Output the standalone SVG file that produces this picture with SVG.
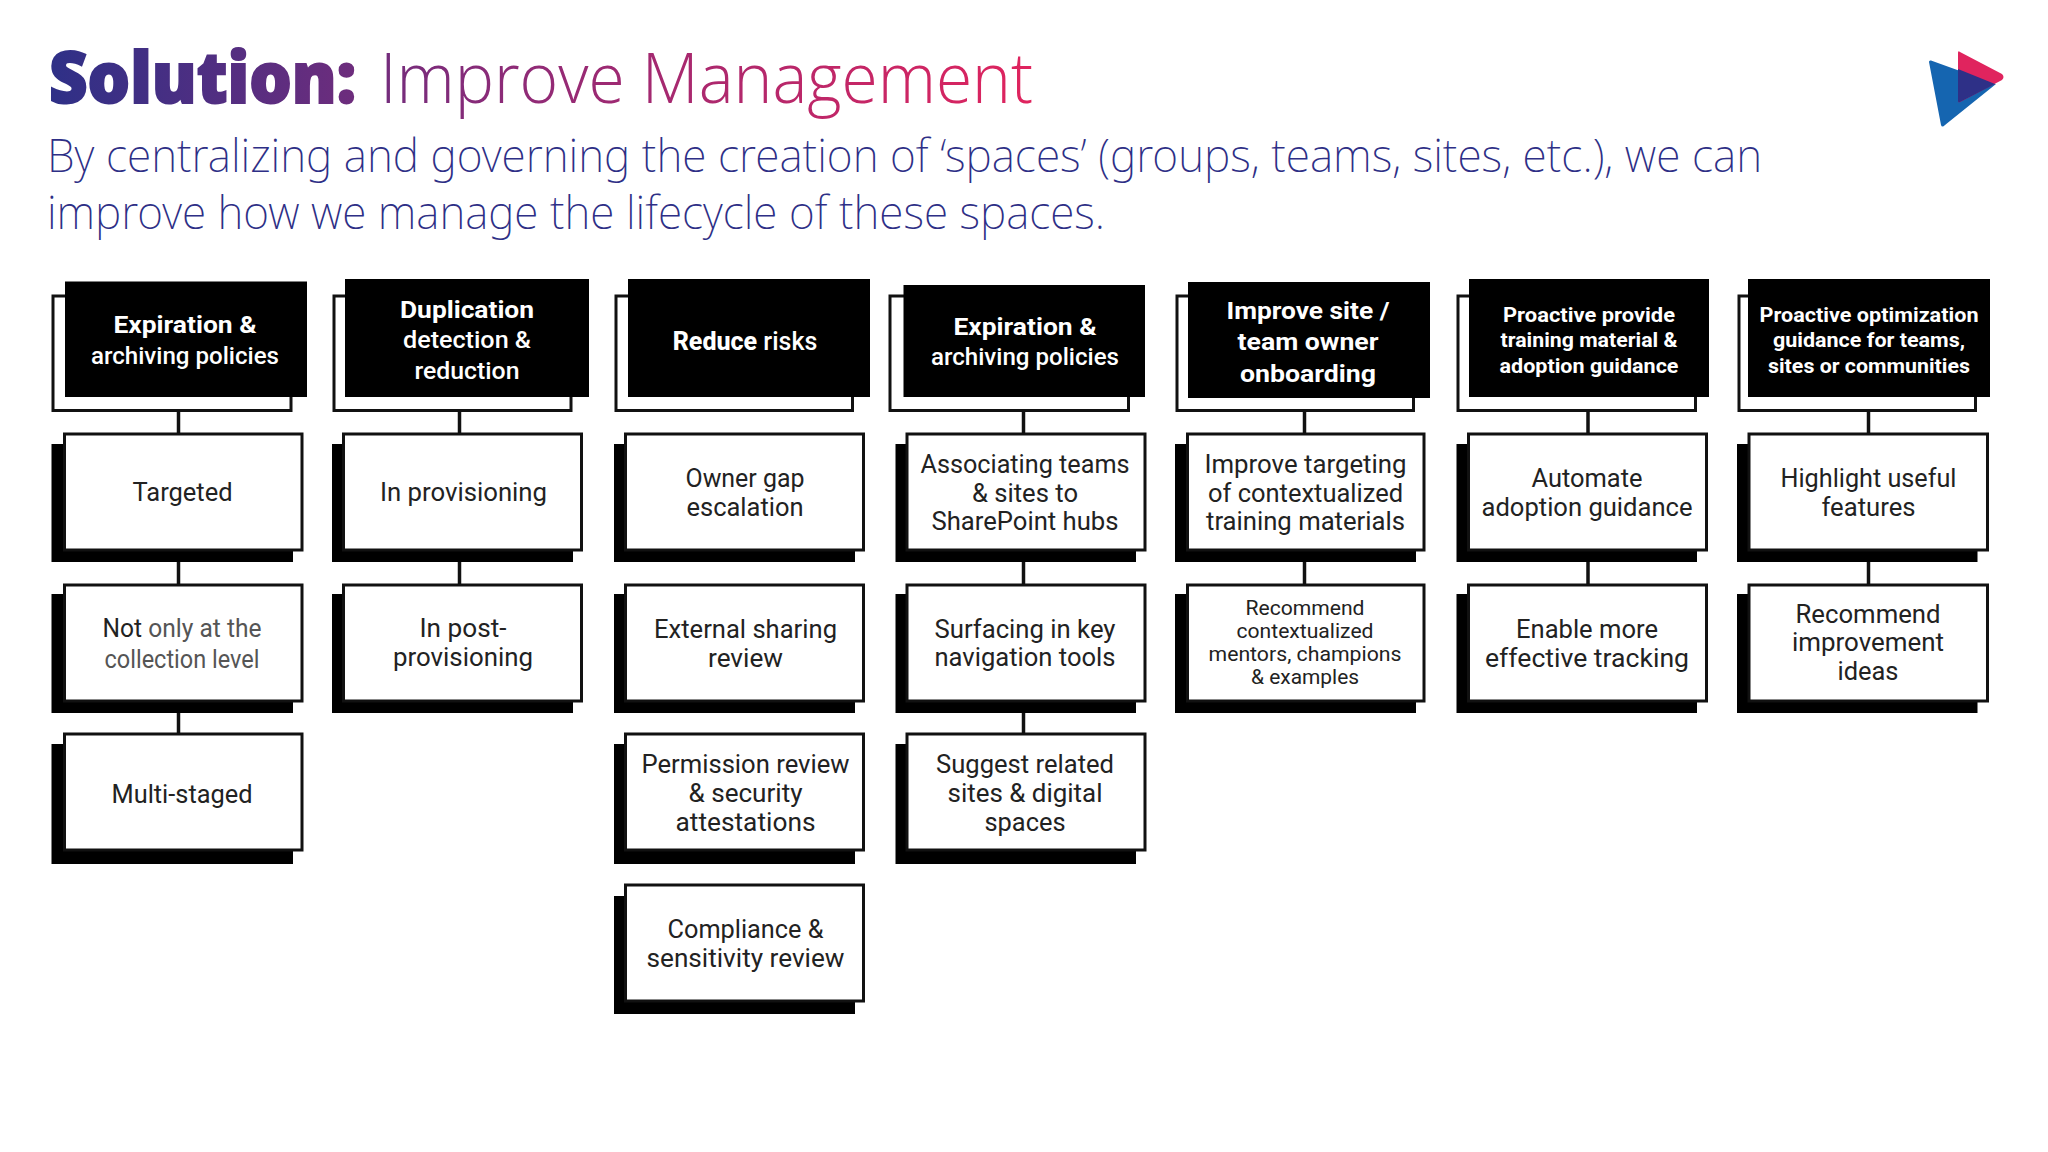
<svg xmlns="http://www.w3.org/2000/svg" width="2048" height="1152" viewBox="0 0 2048 1152">
<style>
text{font-family:Roboto,"Liberation Sans",sans-serif;text-anchor:middle}
.o{fill:#fff;stroke:#111;stroke-width:3}
.k{fill:#000}
.h{fill:#fff;font-size:24px;font-weight:700}
.hs{fill:#fff;font-size:24px;font-weight:500}
.hm{fill:#fff;font-size:21px;font-weight:700}
.t{fill:#222;font-size:26px;font-weight:400;transform:translateY(1px)}
.ts{fill:#222;font-size:21px;font-weight:400}
.tt{fill:#333;font-size:25px;font-weight:400;transform:translateY(0.5px)}
.c line{stroke:#111;stroke-width:3.5}
.title{font-family:"Open Sans","Noto Sans",sans-serif;text-anchor:start;fill:url(#g)}
.sub{font-family:"Noto Sans","Open Sans",sans-serif;text-anchor:start;fill:#2e2f86;font-size:46px;font-weight:200}
</style>
<defs>
<linearGradient id="g" gradientUnits="userSpaceOnUse" x1="49" y1="0" x2="1033" y2="0"><stop offset="0" stop-color="#2e3087"/><stop offset="0.45" stop-color="#8a2b78"/><stop offset="1" stop-color="#e0245e"/></linearGradient>
</defs>
<rect width="2048" height="1152" fill="#fff"/>
<g id="heading">
<text class="title" x="49" y="103" font-size="70" font-weight="800" stroke="url(#g)" stroke-width="2" textLength="307" lengthAdjust="spacingAndGlyphs">Solution:</text>
<text class="title" x="380" y="103" font-size="70" font-weight="300" textLength="653" lengthAdjust="spacingAndGlyphs">Improve Management</text>
<text class="sub" x="47" y="172" textLength="1715" lengthAdjust="spacingAndGlyphs">By centralizing and governing the creation of ‘spaces’ (groups, teams, sites, etc.), we can</text>
<text class="sub" x="47" y="229" textLength="1058" lengthAdjust="spacingAndGlyphs">improve how we manage the lifecycle of these spaces.</text>
</g>
<g id="logo">
<path d="M1931 60.5 L1996 84 L1945 125 Q1942 128 1941 125 L1929 62 Q1929 60 1931 60.5 Z" fill="#1565b0"/>
<path d="M1958 53 Q1958 50 1960 52 L2002 74 Q2005 77 2002 80 L1960 102 Q1958 103 1958 101 Z" fill="#e0245e"/>
<path d="M1958 69 L1995 84 L1960 102 Q1958 103 1958 101 Z" fill="#2e3087"/>
</g>
<g id="connectors" class="c">
<line x1="178.5" y1="411" x2="178.5" y2="434"/><line x1="178.5" y1="562" x2="178.5" y2="585"/><line x1="178.5" y1="713" x2="178.5" y2="734"/>
<line x1="459.5" y1="411" x2="459.5" y2="434"/><line x1="459.5" y1="562" x2="459.5" y2="585"/>
<line x1="1023.5" y1="411" x2="1023.5" y2="434"/><line x1="1023.5" y1="562" x2="1023.5" y2="585"/><line x1="1023.5" y1="713" x2="1023.5" y2="734"/>
<line x1="1304.5" y1="411" x2="1304.5" y2="434"/><line x1="1304.5" y1="562" x2="1304.5" y2="585"/>
<line x1="1588" y1="411" x2="1588" y2="434"/><line x1="1588" y1="562" x2="1588" y2="585"/>
<line x1="1868.5" y1="411" x2="1868.5" y2="434"/><line x1="1868.5" y1="562" x2="1868.5" y2="585"/>
</g>

<g id="h1"><rect class="o" x="53" y="296" width="238" height="114.5"/><rect class="k" x="65" y="281.5" width="242" height="115.5"/>
<text class="h" x="185" y="333" textLength="143" lengthAdjust="spacingAndGlyphs">Expiration &amp;</text><text class="hs" x="185" y="364" textLength="188" lengthAdjust="spacingAndGlyphs">archiving policies</text></g>
<g id="h2"><rect class="o" x="334" y="296" width="237" height="114.5"/><rect class="k" x="345" y="279" width="244" height="118"/>
<text class="h" x="467" y="318" textLength="134" lengthAdjust="spacingAndGlyphs">Duplication</text><text class="hs" x="467" y="348" textLength="128" lengthAdjust="spacingAndGlyphs">detection &amp;</text><text class="hs" x="467" y="379" textLength="105" lengthAdjust="spacingAndGlyphs">reduction</text></g>
<g id="h3"><rect class="o" x="616" y="296" width="236.5" height="114.5"/><rect class="k" x="628" y="279" width="242" height="118"/>
<text class="h" x="745" y="350" style="font-size:25px;font-weight:800">Reduce <tspan class="hs" style="font-size:25px">risks</tspan></text></g>
<g id="h4"><rect class="o" x="890" y="296" width="238.5" height="114.5"/><rect class="k" x="903.5" y="285" width="241.5" height="112"/>
<text class="h" x="1025" y="335" textLength="143" lengthAdjust="spacingAndGlyphs">Expiration &amp;</text><text class="hs" x="1025" y="365" textLength="188" lengthAdjust="spacingAndGlyphs">archiving policies</text></g>
<g id="h5"><rect class="o" x="1177" y="296" width="236.5" height="114.5"/><rect class="k" x="1188" y="282" width="242" height="116"/>
<text class="h" x="1308" y="319" textLength="163" lengthAdjust="spacingAndGlyphs">Improve site /</text><text class="h" x="1308" y="350" textLength="141" lengthAdjust="spacingAndGlyphs">team owner</text><text class="h" x="1308" y="382" textLength="136" lengthAdjust="spacingAndGlyphs">onboarding</text></g>
<g id="h6"><rect class="o" x="1458" y="296" width="237.5" height="114.5"/><rect class="k" x="1469" y="279" width="240" height="118"/>
<text class="hm" x="1589" y="322" textLength="172" lengthAdjust="spacingAndGlyphs">Proactive provide</text><text class="hm" x="1589" y="347" textLength="177" lengthAdjust="spacingAndGlyphs">training material &amp;</text><text class="hm" x="1589" y="373" textLength="179" lengthAdjust="spacingAndGlyphs">adoption guidance</text></g>
<g id="h7"><rect class="o" x="1739" y="296" width="236.5" height="114.5"/><rect class="k" x="1748" y="279" width="242" height="118"/>
<text class="hm" x="1869" y="322" textLength="219" lengthAdjust="spacingAndGlyphs">Proactive optimization</text><text class="hm" x="1869" y="347" textLength="192" lengthAdjust="spacingAndGlyphs">guidance for teams,</text><text class="hm" x="1869" y="373" textLength="202" lengthAdjust="spacingAndGlyphs">sites or communities</text></g>

<g id="n1-1"><rect class="k" x="51.5" y="444" width="241.5" height="118"/><rect class="o" x="64.5" y="434" width="237.5" height="116"/>
<text class="t" x="182.5" y="500" textLength="100" lengthAdjust="spacingAndGlyphs">Targeted</text></g>
<g id="n1-2"><rect class="k" x="51.5" y="594" width="241.5" height="119"/><rect class="o" x="64.5" y="585" width="237.5" height="116"/>
<text class="tt" x="182" y="636" textLength="159" lengthAdjust="spacingAndGlyphs"><tspan fill="#222">Not</tspan> <tspan fill="#555">only at the</tspan></text><text class="tt" x="182" y="667" textLength="155" lengthAdjust="spacingAndGlyphs" style="fill:#555">collection level</text></g>
<g id="n1-3"><rect class="k" x="51.5" y="744" width="241.5" height="120"/><rect class="o" x="64.5" y="734" width="237.5" height="116"/>
<text class="t" x="182" y="802" textLength="141" lengthAdjust="spacingAndGlyphs">Multi-staged</text></g>

<g id="n2-1"><rect class="k" x="332" y="444" width="241" height="118"/><rect class="o" x="343.5" y="434" width="238" height="116"/>
<text class="t" x="463.5" y="500" textLength="167" lengthAdjust="spacingAndGlyphs">In provisioning</text></g>
<g id="n2-2"><rect class="k" x="332" y="594" width="241" height="119"/><rect class="o" x="343.5" y="585" width="238" height="116"/>
<text class="t" x="463" y="636" textLength="87" lengthAdjust="spacingAndGlyphs">In post-</text><text class="t" x="463" y="665" textLength="140" lengthAdjust="spacingAndGlyphs">provisioning</text></g>

<g id="n3-1"><rect class="k" x="614" y="444" width="241" height="118"/><rect class="o" x="625.5" y="434" width="238" height="116"/>
<text class="t" x="745" y="486" textLength="119" lengthAdjust="spacingAndGlyphs">Owner gap</text><text class="t" x="745" y="515" textLength="117" lengthAdjust="spacingAndGlyphs">escalation</text></g>
<g id="n3-2"><rect class="k" x="614" y="594" width="241" height="119"/><rect class="o" x="625.5" y="585" width="238" height="116"/>
<text class="t" x="745.5" y="637" textLength="183" lengthAdjust="spacingAndGlyphs">External sharing</text><text class="t" x="745.5" y="666" textLength="75" lengthAdjust="spacingAndGlyphs">review</text></g>
<g id="n3-3"><rect class="k" x="614" y="744" width="241" height="120"/><rect class="o" x="625.5" y="734" width="238" height="116"/>
<text class="t" x="745.5" y="772" textLength="208" lengthAdjust="spacingAndGlyphs">Permission review</text><text class="t" x="745.5" y="801" textLength="114" lengthAdjust="spacingAndGlyphs">&amp; security</text><text class="t" x="745.5" y="830" textLength="140" lengthAdjust="spacingAndGlyphs">attestations</text></g>
<g id="n3-4"><rect class="k" x="614" y="896" width="241" height="118"/><rect class="o" x="625.5" y="885" width="238" height="116"/>
<text class="t" x="745.5" y="937" textLength="156" lengthAdjust="spacingAndGlyphs">Compliance &amp;</text><text class="t" x="745.5" y="966" textLength="198" lengthAdjust="spacingAndGlyphs">sensitivity review</text></g>

<g id="n4-1"><rect class="k" x="895.5" y="444" width="240.5" height="118"/><rect class="o" x="907" y="434" width="238" height="116"/>
<text class="t" x="1025" y="472" textLength="209" lengthAdjust="spacingAndGlyphs">Associating teams</text><text class="t" x="1025" y="501" textLength="106" lengthAdjust="spacingAndGlyphs">&amp; sites to</text><text class="t" x="1025" y="529" textLength="187" lengthAdjust="spacingAndGlyphs">SharePoint hubs</text></g>
<g id="n4-2"><rect class="k" x="895.5" y="594" width="240.5" height="119"/><rect class="o" x="907" y="585" width="238" height="116"/>
<text class="t" x="1025" y="637" textLength="181" lengthAdjust="spacingAndGlyphs">Surfacing in key</text><text class="t" x="1025" y="665" textLength="181" lengthAdjust="spacingAndGlyphs">navigation tools</text></g>
<g id="n4-3"><rect class="k" x="895.5" y="744" width="240.5" height="120"/><rect class="o" x="907" y="734" width="238" height="116"/>
<text class="t" x="1025" y="772" textLength="178" lengthAdjust="spacingAndGlyphs">Suggest related</text><text class="t" x="1025" y="801" textLength="155" lengthAdjust="spacingAndGlyphs">sites &amp; digital</text><text class="t" x="1025" y="830" textLength="81" lengthAdjust="spacingAndGlyphs">spaces</text></g>

<g id="n5-1"><rect class="k" x="1175" y="444" width="241" height="118"/><rect class="o" x="1187.5" y="434" width="236.5" height="116"/>
<text class="t" x="1305.5" y="472" textLength="202" lengthAdjust="spacingAndGlyphs">Improve targeting</text><text class="t" x="1305.5" y="501" textLength="195" lengthAdjust="spacingAndGlyphs">of contextualized</text><text class="t" x="1305.5" y="529" textLength="199" lengthAdjust="spacingAndGlyphs">training materials</text></g>
<g id="n5-2"><rect class="k" x="1175" y="594" width="241" height="119"/><rect class="o" x="1187.5" y="585" width="236.5" height="116"/>
<text class="ts" x="1305" y="615" textLength="119" lengthAdjust="spacingAndGlyphs">Recommend</text><text class="ts" x="1305" y="638" textLength="137" lengthAdjust="spacingAndGlyphs">contextualized</text><text class="ts" x="1305" y="661" textLength="193" lengthAdjust="spacingAndGlyphs">mentors, champions</text><text class="ts" x="1305" y="684" textLength="108" lengthAdjust="spacingAndGlyphs">&amp; examples</text></g>

<g id="n6-1"><rect class="k" x="1456.5" y="444" width="240.5" height="118"/><rect class="o" x="1468.5" y="434" width="238" height="116"/>
<text class="t" x="1587" y="486" textLength="111" lengthAdjust="spacingAndGlyphs">Automate</text><text class="t" x="1587" y="515" textLength="211" lengthAdjust="spacingAndGlyphs">adoption guidance</text></g>
<g id="n6-2"><rect class="k" x="1456.5" y="594" width="240.5" height="119"/><rect class="o" x="1468.5" y="585" width="238" height="116"/>
<text class="t" x="1587" y="637" textLength="142" lengthAdjust="spacingAndGlyphs">Enable more</text><text class="t" x="1587" y="666" textLength="204" lengthAdjust="spacingAndGlyphs">effective tracking</text></g>

<g id="n7-1"><rect class="k" x="1737" y="444" width="240.5" height="118"/><rect class="o" x="1749" y="434" width="238.5" height="116"/>
<text class="t" x="1868.5" y="486" textLength="176" lengthAdjust="spacingAndGlyphs">Highlight useful</text><text class="t" x="1868.5" y="515" textLength="94" lengthAdjust="spacingAndGlyphs">features</text></g>
<g id="n7-2"><rect class="k" x="1737" y="594" width="240.5" height="119"/><rect class="o" x="1749" y="585" width="238.5" height="116"/>
<text class="t" x="1868" y="622" textLength="145" lengthAdjust="spacingAndGlyphs">Recommend</text><text class="t" x="1868" y="650" textLength="152" lengthAdjust="spacingAndGlyphs">improvement</text><text class="t" x="1868" y="679" textLength="61" lengthAdjust="spacingAndGlyphs">ideas</text></g>
</svg>
